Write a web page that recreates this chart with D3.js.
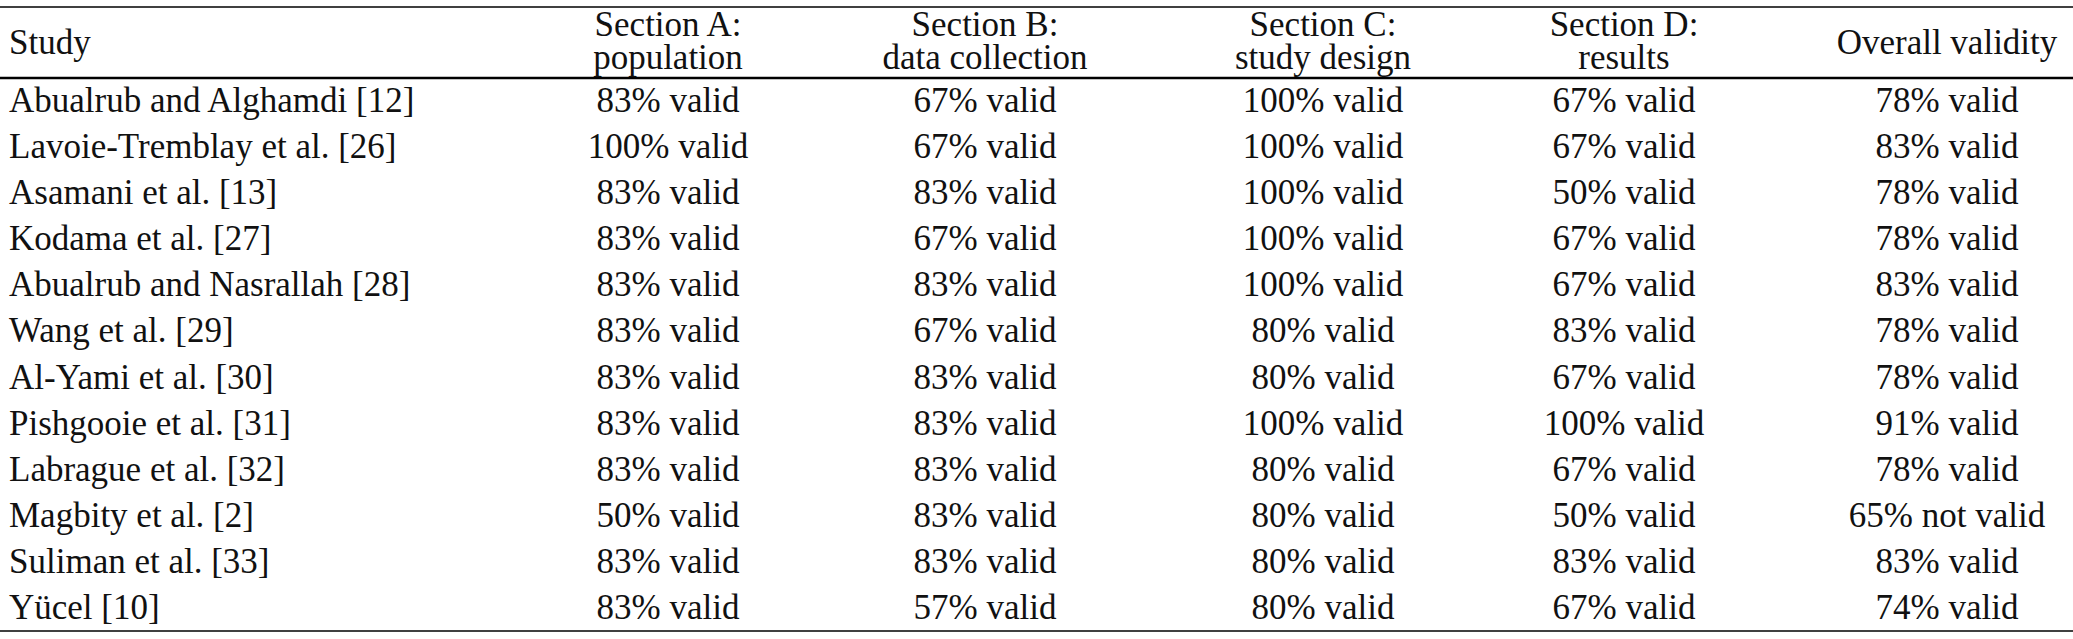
<!DOCTYPE html>
<html><head><meta charset="utf-8">
<script src="https://cdn.jsdelivr.net/npm/d3@7"></script>
<style>body{margin:0;background:#fff}svg{display:block}</style>
</head><body><div id="c"></div>
<script>
const headers = [["Study"],["Section A:","population"],["Section B:","data collection"],["Section C:","study design"],["Section D:","results"],["Overall validity"]];
const studies = ["Abualrub and Alghamdi [12]","Lavoie-Tremblay et al. [26]","Asamani et al. [13]","Kodama et al. [27]","Abualrub and Nasrallah [28]","Wang et al. [29]","Al-Yami et al. [30]","Pishgooie et al. [31]","Labrague et al. [32]","Magbity et al. [2]","Suliman et al. [33]","Yücel [10]"];
const sectionA = [83,100,83,83,83,83,83,83,83,50,83,83];
const sectionB = [67,67,83,67,83,67,83,83,83,83,83,57];
const sectionC = [100,100,100,100,100,80,80,100,80,80,80,80];
const sectionD = [67,67,50,67,67,83,67,100,67,50,83,67];
const overall = [78,83,78,78,83,78,78,91,78,65,83,74];
const overallLabel = ["valid","valid","valid","valid","valid","valid","valid","valid","valid","not valid","valid","valid"];

const W=2073,H=639;
const svg=d3.select("#c").append("svg").attr("width",W).attr("height",H);
const font="'Liberation Serif', serif", fs=35;
const colX=d3.scaleOrdinal().domain(d3.range(6)).range([9,668,985,1323,1624,1947]);
const y=d3.scaleBand().domain(d3.range(12)).range([78,631]);
const lineW=[[7,1.5],[78,2.5],[631,1.5]];
svg.selectAll("line").data(lineW).join("line").attr("x1",0).attr("x2",W)
  .attr("y1",d=>d[0]).attr("y2",d=>d[0]).attr("stroke","#000").attr("stroke-width",d=>d[1]);
headers.forEach((h,i)=>{
  const t=svg.append("text").attr("x",colX(i)).attr("text-anchor",i?"middle":"start")
    .attr("font-family",font).attr("font-size",fs).attr("fill","#111");
  if(h.length===1){t.attr("y",54).text(h[0]);}
  else{t.attr("y",36).text(h[0]);svg.append("text").attr("x",colX(i)).attr("y",69).attr("text-anchor","middle")
    .attr("font-family",font).attr("font-size",fs).attr("fill","#111").text(h[1]);}
});
const cols=[studies,sectionA.map(v=>v+"% valid"),sectionB.map(v=>v+"% valid"),sectionC.map(v=>v+"% valid"),sectionD.map(v=>v+"% valid"),overall.map((v,i)=>v+"% "+overallLabel[i])];
cols.forEach((c,i)=>{
  svg.append("g").selectAll("text").data(c).join("text")
    .attr("x",colX(i)).attr("y",(d,j)=>y(j)+y.bandwidth()/2+11)
    .attr("text-anchor",i?"middle":"start").attr("font-family",font).attr("font-size",fs).attr("fill","#111").text(d=>d);
});
</script></body></html>
